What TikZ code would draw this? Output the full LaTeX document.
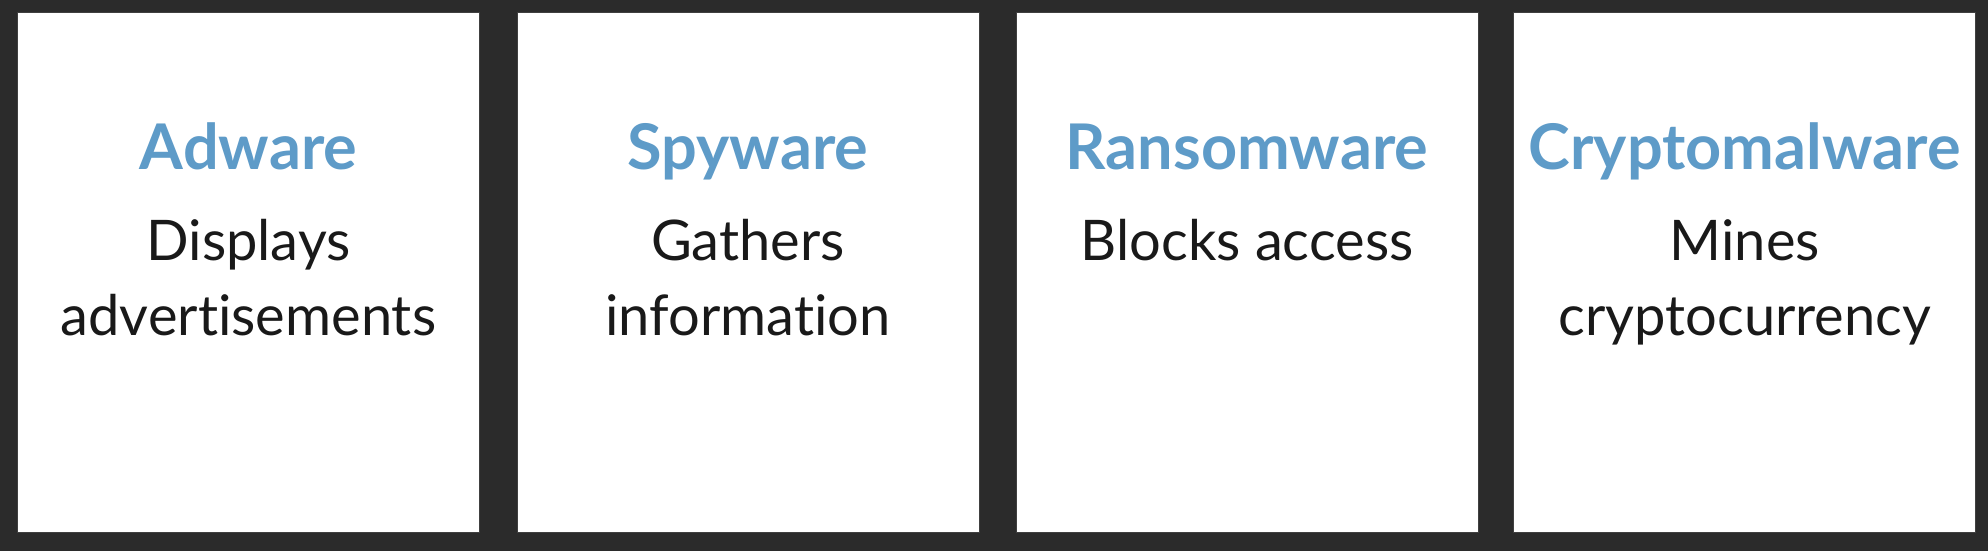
\documentclass[tikz,border=0pt]{standalone}
\usepackage{fontspec}
\setmainfont{Lato}[Ligatures=NoCommon]
\definecolor{slide}{HTML}{2B2B2B}
\definecolor{titleblue}{HTML}{5E9BC8}
\tikzset{
  card/.style={fill=white, draw=black!75, line width=1pt, minimum width=462pt, minimum height=520pt, inner sep=0pt},
  cardtitle/.style={text=titleblue, font=\fontsize{63}{66}\selectfont\bfseries, anchor=base},
  cardtext/.style={text=black!90, font=\fontsize{56}{75}\selectfont, align=center, anchor=base}
}
\begin{document}
\begin{tikzpicture}[x=1pt,y=-1pt]
  % dark slide behind the cards
  \fill[slide] (0,0) rectangle (1988,551);
  \useasboundingbox (0,0) rectangle (1988,551);

  % one card per kind of malware (\by = baseline of the last text line)
  \foreach \name/\cx/\title/\desc/\by in {
      adware/248.5/Adware/{Displays\\advertisements}/335,
      spyware/748/Spyware/{Gathers\\information}/335,
      ransomware/1247/Ransomware/{Blocks access}/260,
      crypto/1744.7/Cryptomalware/{Mines\\cryptocurrency}/335} {
    \node[card] (\name) at (\cx,272.6) {};
    \node[cardtitle] (\name-title) at (\cx,169) {\title};
    \node[cardtext] (\name-text) at (\cx,\by) {\desc};
  }
\end{tikzpicture}
\end{document}
